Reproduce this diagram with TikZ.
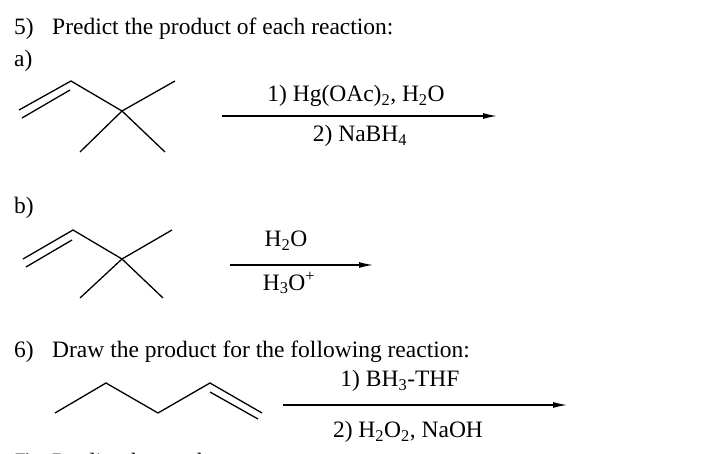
\documentclass[tikz,border=0pt]{standalone}
\usepackage{fontspec}
\setmainfont{Liberation Serif}
\usetikzlibrary{arrows.meta}
\newcommand{\sbx}[1]{\textsubscript{#1}}
\newcommand{\spx}[1]{\textsuperscript{#1}}
\begin{document}
\begin{tikzpicture}[x=1pt,y=-1pt,
  bond/.style={line width=1.3pt},
  rxn/.style={line width=1.2pt,-{Latex[length=14pt,width=6pt]}},
  txt/.style={font=\fontsize{23.5}{27}\selectfont,inner sep=0pt,anchor=base west},
  lab/.style={font=\fontsize{23.5}{27}\selectfont,inner sep=0pt}]
\clip (0,0) rectangle (724,454);
\useasboundingbox (0,0) rectangle (724,454);
\fill[white] (0,0) rectangle (724,454);
\node[txt] (h5) at (14,35) {5)};
\node[txt] (t5) at (52,35) {Predict the product of each reaction:};
\node[txt] (ha) at (14,67) {a)};
% molecule a
\draw[bond] (19,110) -- (71,81) -- (122,111) -- (175,81);
\draw[bond] (22,118) -- (70,90);
\draw[bond] (122,111) -- (80,152);
\draw[bond] (122,111) -- (165,152);
\coordinate (a1) at (222,116); \coordinate (a2) at (497,116);
\draw[rxn] (a1) -- (a2);
\node[lab] (ra1) at (356,96) {1) Hg(OAc)\sbx{2}, H\sbx{2}O};
\node[lab] (ra2) at (360,136) {2) NaBH\sbx{4}};
\node[txt] (hb) at (14,214) {b)};
% molecule b
\draw[bond] (23,259) -- (73,230) -- (122,259) -- (172,230);
\draw[bond] (26,267) -- (72,240);
\draw[bond] (122,259) -- (80,298);
\draw[bond] (122,259) -- (163,298);
\coordinate (b1) at (230,265); \coordinate (b2) at (373,265);
\draw[rxn] (b1) -- (b2);
\node[lab] (rb1) at (286,241) {H\sbx{2}O};
\node[lab] (rb2) at (289,283) {H\sbx{3}O\spx{+}};
\node[txt] (h6) at (14,358) {6)};
\node[txt] (t6) at (52,358) {Draw the product for the following reaction:};
% molecule 6
\draw[bond] (55,413) -- (106,383) -- (158,413) -- (210,383) -- (262,413);
\draw[bond] (210,392) -- (258,419);
\coordinate (c1) at (283,405); \coordinate (c2) at (567,405);
\draw[rxn] (c1) -- (c2);
\node[lab] (rc1) at (400,381) {1) BH\sbx{3}-THF};
\node[lab] (rc2) at (408,432) {2) H\sbx{2}O\sbx{2}, NaOH};
\node[txt] (h7) at (14,470) {7)};
\node[txt] (t7) at (52,470) {Predict the product};
\end{tikzpicture}
\end{document}
